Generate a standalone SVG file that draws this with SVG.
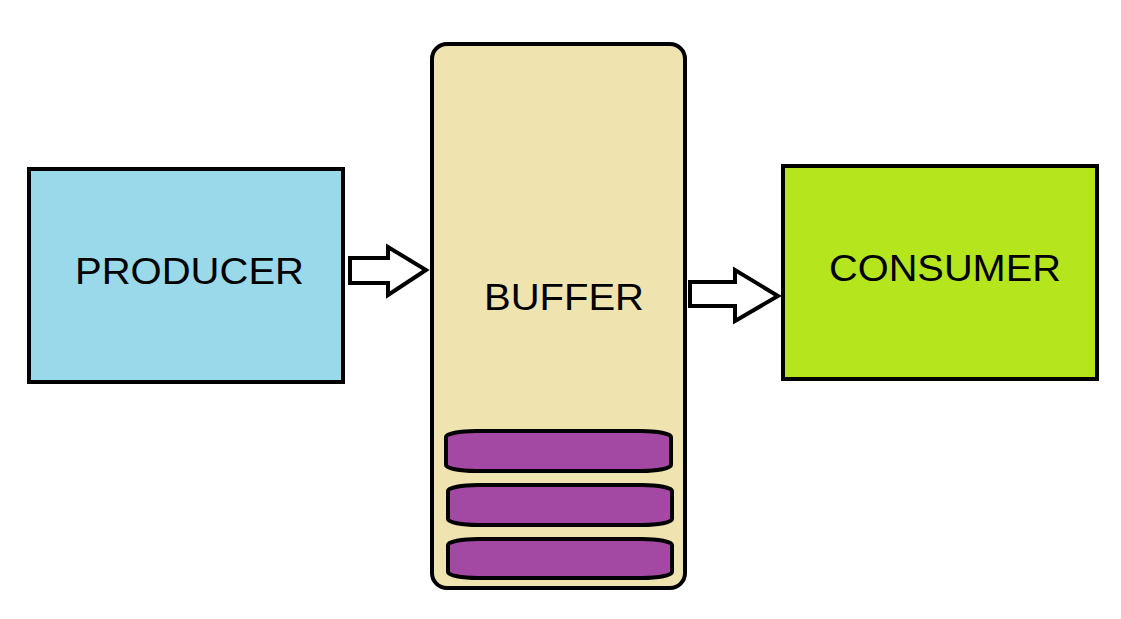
<svg xmlns="http://www.w3.org/2000/svg" width="1121" height="619" viewBox="0 0 1121 619">
<style>
.box{stroke:#000;stroke-width:4}
.lbl{font-family:"Liberation Sans","Open Sans",sans-serif;font-size:36px;fill:#000}
.arrow{fill:#fff;stroke:#000;stroke-width:4;stroke-linejoin:miter}
.slot{fill:#a349a4;stroke:#000;stroke-width:4}
</style>
<rect width="1121" height="619" fill="#fff"/>
<g id="producer">
<rect class="box" x="29" y="169" width="314" height="213" fill="#99d9ea"/>
<text class="lbl" x="75" y="284" textLength="229" lengthAdjust="spacingAndGlyphs">PRODUCER</text>
</g>
<g id="buffer">
<rect class="box" x="432" y="44" width="253" height="544" rx="15" ry="15" fill="#efe4b0"/>
<text class="lbl" x="484" y="310" textLength="160" lengthAdjust="spacingAndGlyphs">BUFFER</text>
<rect class="slot" x="446" y="431" width="225" height="40" rx="30" ry="6"/>
<rect class="slot" x="448" y="485" width="224" height="40" rx="30" ry="6"/>
<rect class="slot" x="448" y="539" width="224" height="39" rx="30" ry="6"/>
</g>
<g id="consumer">
<rect class="box" x="783" y="166" width="314" height="213" fill="#b5e61d"/>
<text class="lbl" x="829" y="281" textLength="232" lengthAdjust="spacingAndGlyphs">CONSUMER</text>
</g>
<g id="connectors">
<polygon class="arrow" points="350,258 388,258 388,247 426,270 388,295 388,283 350,283"/>
<polygon class="arrow" points="690,282 735,282 735,270 778,296 735,321 735,306 690,306"/>
</g>
</svg>
